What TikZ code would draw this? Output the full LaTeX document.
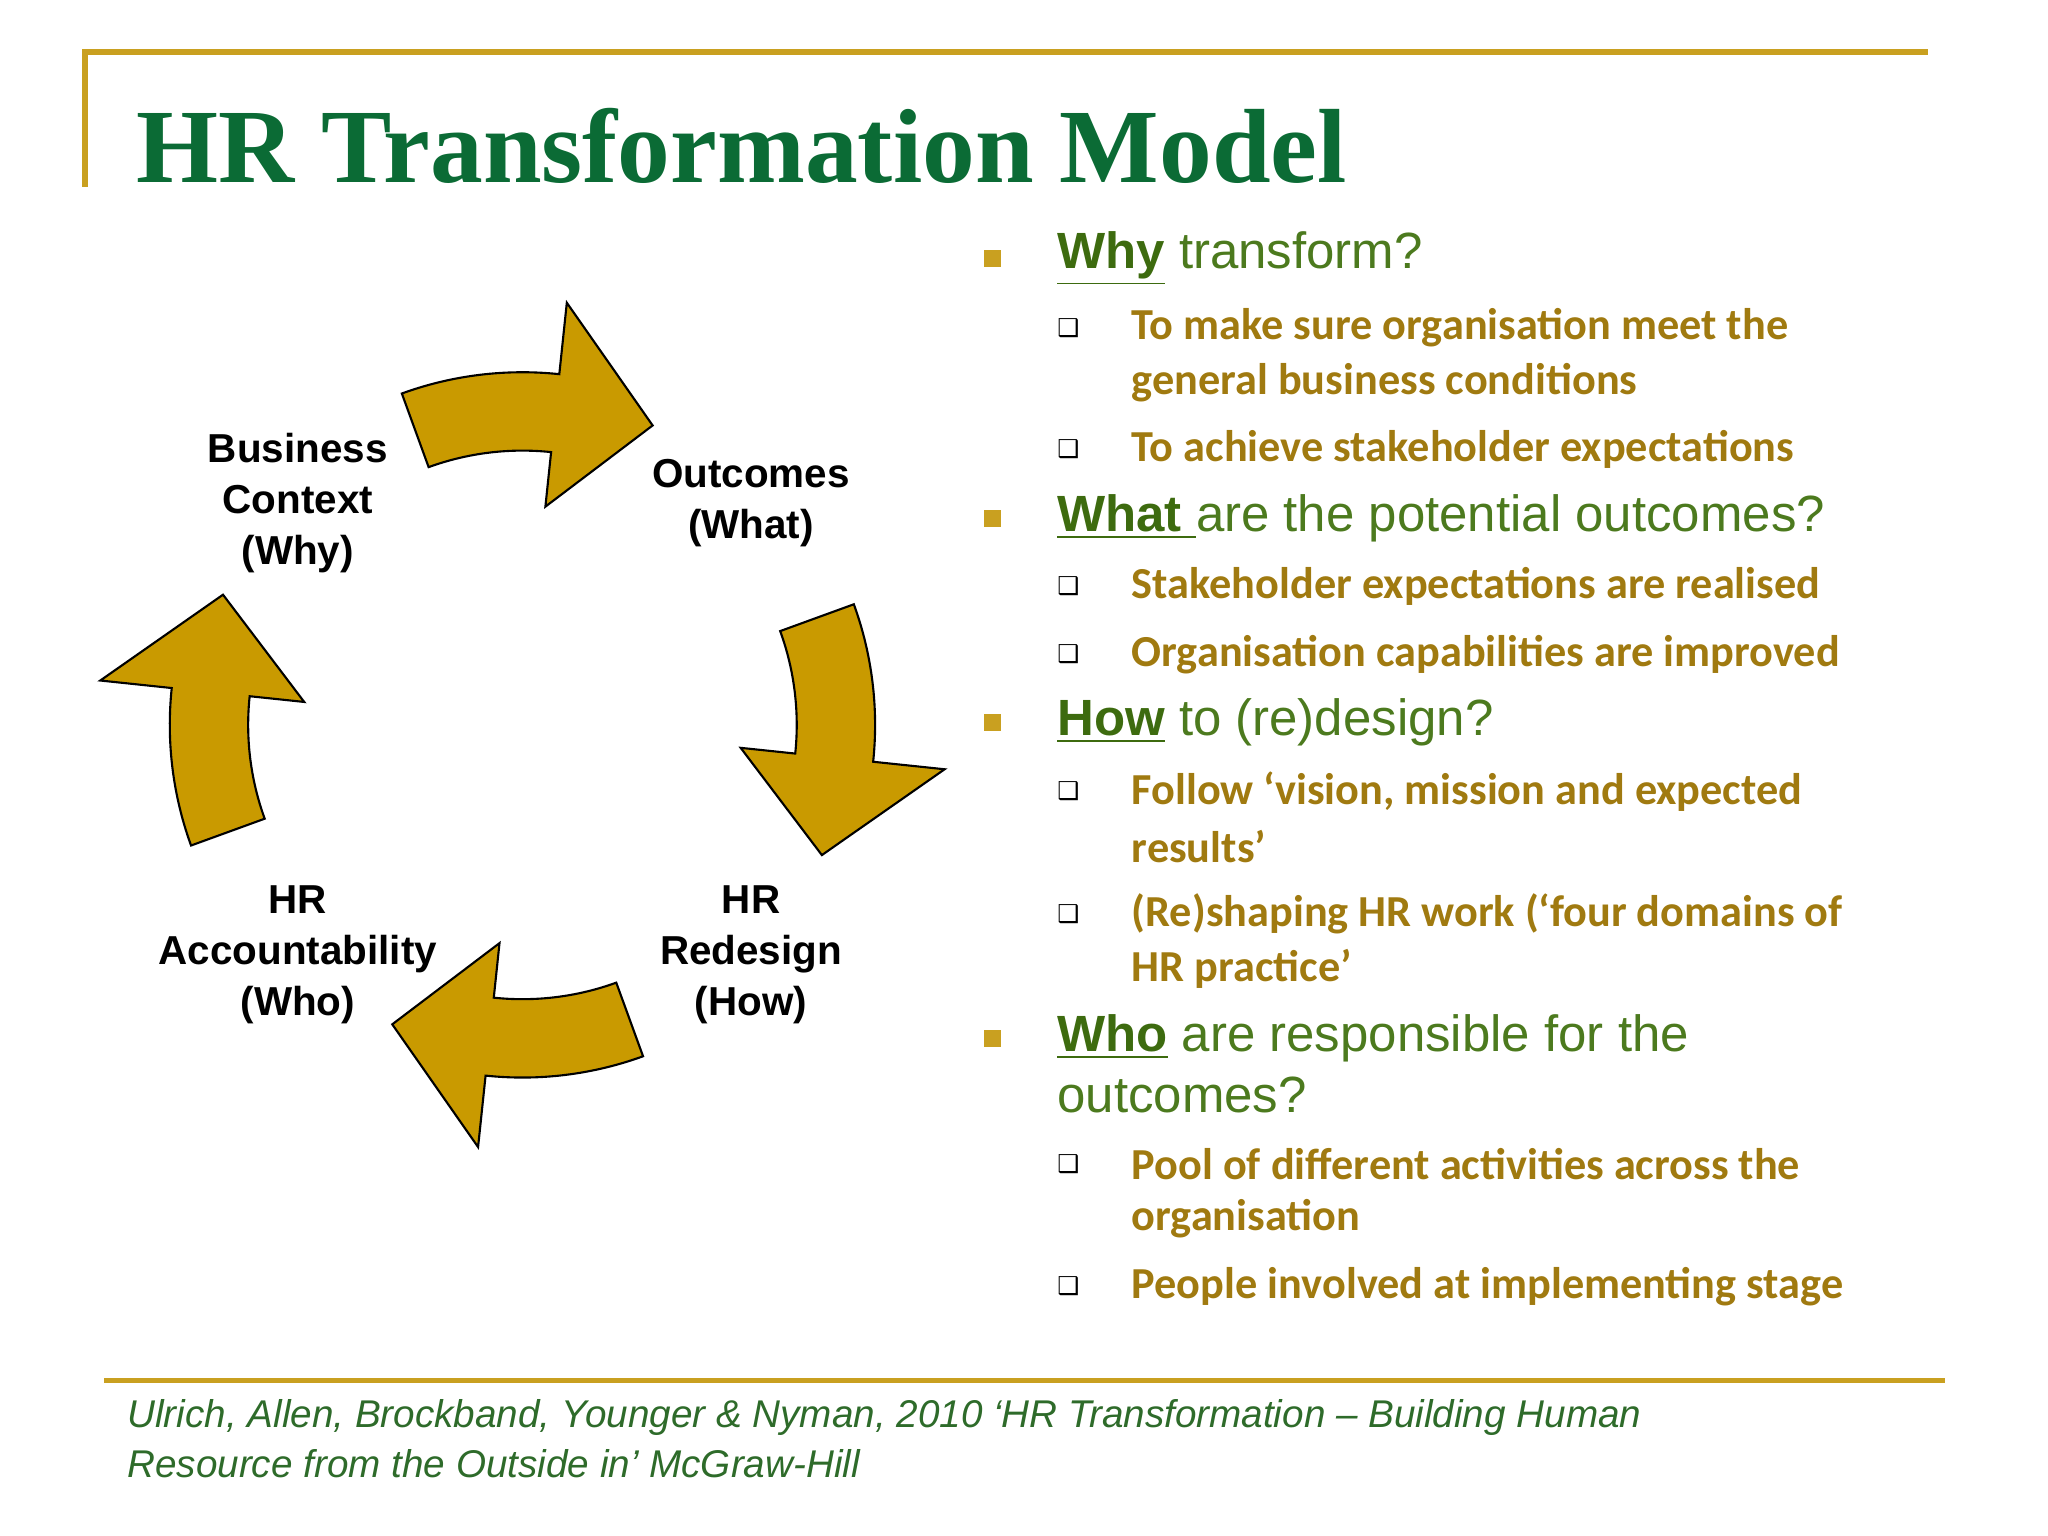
\documentclass[tikz,border=0pt]{standalone}
\usepackage{fontspec}
\setmainfont{Liberation Serif}
\newfontfamily\arialf{Liberation Sans}
\newfontfamily\calf{Carlito}
\newfontfamily\dejaf{DejaVu Sans}
\definecolor{gold}{HTML}{C99A00}
\definecolor{lineg}{HTML}{C9A020}
\definecolor{titleg}{HTML}{0B6B35}
\definecolor{kw}{HTML}{3D6B0F}
\definecolor{mg}{HTML}{4C7A1E}
\definecolor{sub}{HTML}{A07A10}
\definecolor{foot}{HTML}{2E6B2A}
\tikzset{
 arr/.style={fill=gold,draw=black,line width=0.6pt,line join=miter},
 lab/.style={font=\arialf\bfseries\fontsize{11.5}{14.5}\selectfont,align=center},
 mainb/.style={anchor=west,inner sep=0,font=\arialf\fontsize{14.5}{17}\selectfont,text=mg},
 subb/.style={anchor=west,inner sep=0,font=\calf\bfseries\fontsize{12.6}{15}\selectfont,text=sub},
 sq/.style={fill=lineg,minimum size=0.17cm,inner sep=0},
 hs/.style={anchor=center,inner sep=0,font=\dejaf\fontsize{7}{8}\selectfont,text=black}
}
\newcommand\cyclearrow[1]{\filldraw[arr,rotate=#1] (110:270) arc(110:84:270) -- (84:325) -- (66.5:250) -- (84:168) -- (84:210) arc(84:110:210) -- cycle;}
\begin{document}
\begin{tikzpicture}[x=0.013061cm,y=-0.013061cm]
\useasboundingbox (0,0) rectangle (1568,1176);
\draw[lineg,line width=1.6pt] (65,143) -- (65,40) -- (1476,40);
\draw[lineg,line width=1.6pt] (80,1057) -- (1489,1057);
\node[anchor=west,inner sep=0,text=titleg,font=\bfseries\fontsize{30}{34}\selectfont] (title) at (104,112) {HR Transformation Model};
% cycle
\begin{scope}[shift={(400,555)},yscale=-1]
\cyclearrow{0}
\cyclearrow{-90}
\cyclearrow{-180}
\cyclearrow{90}
\end{scope}
\node[lab] (bc) at (228,385) {Business\\Context\\(Why)};
\node[lab] (oc) at (575,385) {Outcomes\\(What)};
\node[lab] (rd) at (575,731) {HR\\Redesign\\(How)};
\node[lab] (ac) at (228,731) {HR\\Accountability\\(Who)};
% bullets
\foreach \y in {198,397,553,795} \node[sq] at (760,\y) {};
\foreach \y in {251,344,449,501,606,700,891,985} \node[hs] at (818,\y) {❑};
\node[mainb] (b1) at (809,198) {\textcolor{kw}{\bfseries\underline{Why}} transform?};
\node[subb] at (866,251) {To make sure organisation meet the};
\node[subb] at (866,293) {general business conditions};
\node[subb] at (866,344) {To achieve stakeholder expectations};
\node[mainb] (b2) at (809,397) {\textcolor{kw}{\bfseries\underline{What }}are the potential outcomes?};
\node[subb] at (866,449) {Stakeholder expectations are realised};
\node[subb] at (866,501) {Organisation capabilities are improved};
\node[mainb] (b3) at (809,553) {\textcolor{kw}{\bfseries\underline{How}} to (re)design?};
\node[subb] at (866,606) {Follow ‘vision, mission and expected};
\node[subb] at (866,648) {results’};
\node[subb] at (866,700) {(Re)shaping HR work (‘four domains of};
\node[subb] at (866,742) {HR practice’};
\node[mainb] (b4) at (809,795) {\textcolor{kw}{\bfseries\underline{Who}} are responsible for the};
\node[mainb] at (809,838) {outcomes?};
\node[subb] at (866,891) {Pool of different activities across the};
\node[subb] at (866,933) {organisation};
\node[subb] at (866,985) {People involved at implementing stage};
% footer
\node[anchor=west,inner sep=0,text=foot,font=\arialf\itshape\fontsize{11}{13}\selectfont] (f1) at (97,1085) {Ulrich, Allen, Brockband, Younger \& Nyman, 2010 ‘HR Transformation – Building Human};
\node[anchor=west,inner sep=0,text=foot,font=\arialf\itshape\fontsize{11}{13}\selectfont] (f2) at (97,1121) {Resource from the Outside in’ McGraw-Hill};
\end{tikzpicture}
\end{document}
